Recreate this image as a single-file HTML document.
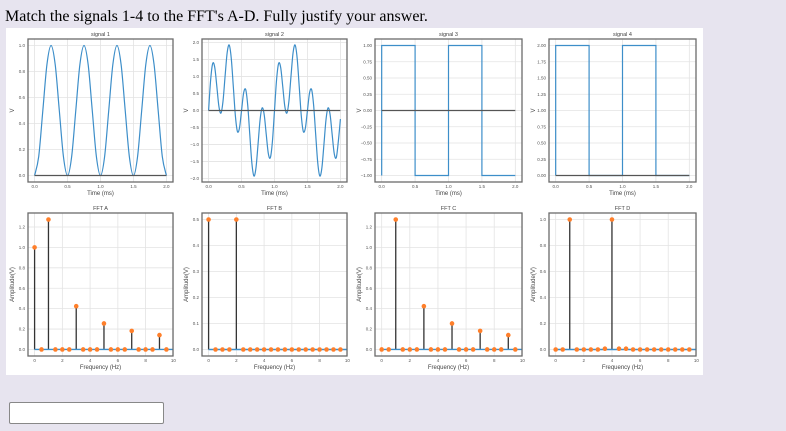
<!DOCTYPE html>
<html><head><meta charset="utf-8">
<style>
body{margin:0;width:786px;height:431px;background:#e7e4ef;overflow:hidden;position:relative;font-family:"Liberation Sans",sans-serif}
#title{position:absolute;left:5px;top:8px;font-family:"Liberation Serif",serif;font-size:16px;color:#000;white-space:nowrap}
#panel{position:absolute;left:6px;top:28px;width:697px;height:347px;background:#fff}
#answer{position:absolute;left:9px;top:402px;width:149px;height:18px;background:#fff;border:1px solid #888;border-radius:2px}
svg{position:absolute;left:0;top:0}
</style></head><body>
<div id="title">Match the signals 1-4 to the FFT's A-D. Fully justify your answer.</div>
<div id="panel"></div>
<input id="answer" type="text">
<svg id="fig" width="786" height="431"></svg>
<script>
// ---- data ----
const sig1Values=[0,0.146,0.5,0.854,1,0.854,0.5,0.146,0,0.146,0.5,0.854,1,0.854,0.5,0.146,0,0.146,0.5,0.854,1,0.854,0.5,0.146,0,0.146,0.5,0.854,1,0.854,0.5,0.146,0];
const sig2Values=[0,0.902,1.383,1.263,0.707,0.124,-0.076,0.274,1,1.688,1.924,1.538,0.707,-0.151,-0.617,-0.512,0,0.512,0.617,0.151,-0.707,-1.538,-1.924,-1.688,-1,-0.274,0.076,-0.124,-0.707,-1.263,-1.383,-0.902,
0,0.902,1.383,1.263,0.707,0.124,-0.076,0.274,1,1.688,1.924,1.538,0.707,-0.151,-0.617,-0.512,0,0.512,0.617,0.151,-0.707,-1.538,-1.924,-1.688,-1,-0.274,0.076,-0.124,-0.707,-1.263,-1.383,-0.902,-0.25];
const sig3Times=[0,0,0.5,0.5,1,1,1.5,1.5,2];
const sig3Levels=[-1,1,1,-1,-1,1,1,-1,-1];
const sig4Times=[0,0,0.5,0.5,1,1,1.5,1.5,2];
const sig4Levels=[0,2,2,0,0,2,2,0,0];
const fftFreqs=[0,0.5,1,1.5,2,2.5,3,3.5,4,4.5,5,5.5,6,6.5,7,7.5,8,8.5,9,9.5];
const fftA=[1,0,1.273,0,0,0,0.424,0,0,0,0.255,0,0,0,0.182,0,0,0,0.141,0];
const fftB=[0.5,0,0,0,0.5,0,0,0,0,0,0,0,0,0,0,0,0,0,0,0];
const fftC=[0,0,1.273,0,0,0,0.424,0,0,0,0.255,0,0,0,0.182,0,0,0,0.141,0];
const fftD=[0,0,1,0,0,0,0,0.006,1,0.006,0.006,0,0,0,0,0,0,0,0,0];
const sigYTicks=[[0,0.2,0.4,0.6,0.8,1.0],[-2,-1.5,-1,-0.5,0,0.5,1,1.5,2],[-1,-0.75,-0.5,-0.25,0,0.25,0.5,0.75,1],[0,0.25,0.5,0.75,1,1.25,1.5,1.75,2]];
const sigYDec=[1,1,2,2];
const sigXTicks=[0,0.5,1,1.5,2];
const fftYTicks=[[0,0.2,0.4,0.6,0.8,1.0,1.2],[0,0.1,0.2,0.3,0.4,0.5],[0,0.2,0.4,0.6,0.8,1.0,1.2],[0,0.2,0.4,0.6,0.8,1.0]];
const fftXTicks=[0,2,4,6,8,10];
const sigTitles=["signal 1","signal 2","signal 3","signal 4"];
const fftTitles=["FFT A","FFT B","FFT C","FFT D"];

const NS="http://www.w3.org/2000/svg";
const svg=document.getElementById('fig');
function el(tag,attrs,parent,text){const e=document.createElementNS(NS,tag);for(const k in attrs)e.setAttribute(k,attrs[k]);if(text!==undefined)e.textContent=text;(parent||svg).appendChild(e);return e;}
const cols=[[28,173],[202,347],[375,522],[549,696]];
function fmt(v,d){let s=v.toFixed(d);return v<0?'\u2212'+s.slice(1):s;}

function axes(box,xlim,ylim,xticks,yticks,xdec,ydec,title,xlabel,ylabel,name){
  const [x0,x1,y0,y1]=box;
  const g=el('g',{},svg);
  
  
  const sx=v=>x0+(v-xlim[0])/(xlim[1]-xlim[0])*(x1-x0);
  const sy=v=>y1-(v-ylim[0])/(ylim[1]-ylim[0])*(y1-y0);
  xticks.forEach(t=>{const x=sx(t);el('line',{x1:x,x2:x,y1:y0,y2:y1,stroke:'#e3e3e3','stroke-width':0.8},g);
    el('text',{x:x,y:y1+6,'font-size':4.5,fill:'#555','text-anchor':'middle'},g,fmt(t,xdec));});
  yticks.forEach(t=>{const y=sy(t);el('line',{x1:x0,x2:x1,y1:y,y2:y,stroke:'#e3e3e3','stroke-width':0.8},g);
    el('text',{x:x0-3,y:y+1.6,'font-size':4.5,fill:'#555','text-anchor':'end'},g,fmt(t,ydec));});
  el('text',{x:(x0+x1)/2,y:y0-3,'font-size':5.5,fill:'#444','text-anchor':'middle'},g,title);
  el('text',{x:(x0+x1)/2,y:y1+13,'font-size':6,fill:'#444','text-anchor':'middle'},g,xlabel);
  el('text',{x:0,y:0,'font-size':6,fill:'#444','text-anchor':'middle',transform:`translate(${x0-14},${(y0+y1)/2}) rotate(-90)`},g,ylabel);
  return {g,sx,sy,box};
}
function frame(a){const [x0,x1,y0,y1]=a.box;el('rect',{x:x0,y:y0,width:x1-x0,height:y1-y0,fill:'none',stroke:'#6b6b6b','stroke-width':1.3},a.g);}

function smoothPath(pts){let d=`M${pts[0][0]},${pts[0][1]}`;
  for(let i=0;i<pts.length-1;i++){const p0=pts[Math.max(0,i-1)],p1=pts[i],p2=pts[i+1],p3=pts[Math.min(pts.length-1,i+2)];
    const c1=[p1[0]+(p2[0]-p0[0])/6,p1[1]+(p2[1]-p0[1])/6],c2=[p2[0]-(p3[0]-p1[0])/6,p2[1]-(p3[1]-p1[1])/6];
    d+=` C${c1[0]},${c1[1]} ${c2[0]},${c2[1]} ${p2[0]},${p2[1]}`;}return d;}

const sigYlim=[[-0.05,1.05],[-2.1,2.1],[-1.1,1.1],[-0.1,2.1]];
for(let i=0;i<4;i++){
  const a=axes([cols[i][0],cols[i][1],39,182],[-0.1,2.1],sigYlim[i],sigXTicks,sigYTicks[i],1,sigYDec[i],sigTitles[i],'Time (ms)','V','signal-'+(i+1)+'-chart');
  let d;
  if(i<2){const vals=i===0?sig1Values:sig2Values;const step=i===0?2/32:2/64;
    const pts=vals.map((v,k)=>[a.sx(Math.min(2,k*step)),a.sy(v)]);d=smoothPath(pts);}
  else{const T=i===2?sig3Times:sig4Times,L=i===2?sig3Levels:sig4Levels;
    d=T.map((t,k)=>(k?'L':'M')+a.sx(t)+','+a.sy(L[k])).join(' ');}
  const p=el('path',{d:d,fill:'none',stroke:'#3d8ec9','stroke-width':1.2},a.g);
  
  
  const z=el('line',{x1:a.sx(0),x2:a.sx(2),y1:a.sy(0),y2:a.sy(0),stroke:'#555','stroke-width':1.3},a.g);
  
  
  frame(a);
}
const fftData=[fftA,fftB,fftC,fftD];
const fftYlim=[[-0.064,1.337],[-0.025,0.525],[-0.064,1.337],[-0.05,1.05]];
for(let i=0;i<4;i++){
  const a=axes([cols[i][0],cols[i][1],213,356],[-0.475,9.975],fftYlim[i],fftXTicks,fftYTicks[i],0,1,fftTitles[i],'Frequency (Hz)','Amplitude(V)','fft-'+'abcd'[i]+'-chart');
  const vals=fftData[i];
  fftFreqs.forEach((f,k)=>{const l=el('line',{x1:a.sx(f),x2:a.sx(f),y1:a.sy(0),y2:a.sy(vals[k]),stroke:'#333','stroke-width':1.3},a.g);
    
    });
  const b=el('line',{x1:a.sx(0),x2:a.sx(9.975),y1:a.sy(0),y2:a.sy(0),stroke:'#3d8ec9','stroke-width':1.4},a.g);
  
  
  fftFreqs.forEach((f,k)=>{const c=el('circle',{cx:a.sx(f),cy:a.sy(vals[k]),r:2.3,fill:'#ff7f2a'},a.g);
    
    });
  frame(a);
}
</script>
</body></html>
